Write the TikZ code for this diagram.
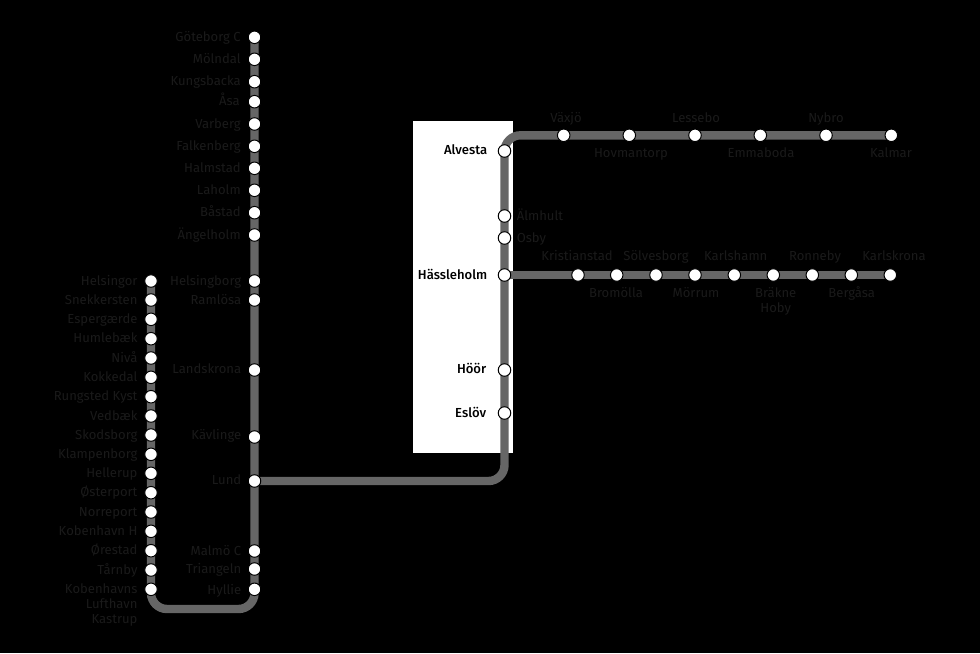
\documentclass[tikz,border=0pt]{standalone}
\usepackage{fontspec}
\setmainfont{Fira Sans}
\newfontfamily\mediumfont{Fira Sans Medium}
\usetikzlibrary{backgrounds}
\definecolor{railgray}{HTML}{666666}
\definecolor{faint}{HTML}{1A1A1A}
\tikzset{
  stopnode/.style={circle, draw=black, line width=0.75pt, fill=white, minimum size=9.4pt, inner sep=0pt},
  rail/.style={line width=6.3pt, railgray, rounded corners=12pt},
  lbl/.style={font=\fontsize{9.8}{11.25}\selectfont, faint, inner sep=0pt, text height=8.4pt, text depth=2pt},
  lblleft/.style={lbl, anchor=east},
  lblright/.style={lbl, anchor=west},
  lblmid/.style={lbl, anchor=center},
  lblstrong/.style={lblleft, black, font=\fontsize{9.8}{11.25}\selectfont\mediumfont}
}
\begin{document}
\begin{tikzpicture}[x=0.75pt, y=-0.75pt]
  % Danish side
  \node[stopnode] (helsingor) at (151,281) {};
  \node[stopnode] (snekkersten) at (151,300) {};
  \node[stopnode] (espergaerde) at (151,319.3) {};
  \node[stopnode] (humlebaek) at (151,338.7) {};
  \node[stopnode] (niva) at (151,358) {};
  \node[stopnode] (kokkedal) at (151,377.3) {};
  \node[stopnode] (rungsted) at (151,396.7) {};
  \node[stopnode] (vedbaek) at (151,416) {};
  \node[stopnode] (skodsborg) at (151,435) {};
  \node[stopnode] (klampenborg) at (151,454.3) {};
  \node[stopnode] (hellerup) at (151,473.3) {};
  \node[stopnode] (osterport) at (151,492.7) {};
  \node[stopnode] (norreport) at (151,512) {};
  \node[stopnode] (kobenhavnh) at (151,531.3) {};
  \node[stopnode] (orestad) at (151,550.7) {};
  \node[stopnode] (tarnby) at (151,570) {};
  \node[stopnode] (kastrup) at (151,589.3) {};
  \node[lblleft] (t-helsingor) at (137.7,281) {Helsingor};
  \node[lblleft] (t-snekkersten) at (137.7,300) {Snekkersten};
  \node[lblleft] (t-espergaerde) at (137.7,319.3) {Espergærde};
  \node[lblleft] (t-humlebaek) at (137.7,338.7) {Humlebæk};
  \node[lblleft] (t-niva) at (137.7,358) {Nivå};
  \node[lblleft] (t-kokkedal) at (137.7,377.3) {Kokkedal};
  \node[lblleft] (t-rungsted) at (137.7,396.7) {Rungsted Kyst};
  \node[lblleft] (t-vedbaek) at (137.7,416) {Vedbæk};
  \node[lblleft] (t-skodsborg) at (137.7,435) {Skodsborg};
  \node[lblleft] (t-klampenborg) at (137.7,454.3) {Klampenborg};
  \node[lblleft] (t-hellerup) at (137.7,473.3) {Hellerup};
  \node[lblleft] (t-osterport) at (137.7,492.7) {Østerport};
  \node[lblleft] (t-norreport) at (137.7,512) {Norreport};
  \node[lblleft] (t-kobenhavnh) at (137.7,531.3) {Kobenhavn H};
  \node[lblleft] (t-orestad) at (137.7,550.7) {Ørestad};
  \node[lblleft] (t-tarnby) at (137.7,570) {Tårnby};
  \node[lblleft, align=right, text height=, text depth=] (t-kastrup) at (137.7,605) {Kobenhavns\\Lufthavn\\Kastrup};

  % Swedish west coast
  \node[stopnode] (goteborg) at (254.5,37.3) {};
  \node[stopnode] (molndal) at (254.5,59.3) {};
  \node[stopnode] (kungsbacka) at (254.5,81.7) {};
  \node[stopnode] (asa) at (254.5,101.7) {};
  \node[stopnode] (varberg) at (254.5,124) {};
  \node[stopnode] (falkenberg) at (254.5,146.3) {};
  \node[stopnode] (halmstad) at (254.5,168.3) {};
  \node[stopnode] (laholm) at (254.5,190.3) {};
  \node[stopnode] (bastad) at (254.5,212.7) {};
  \node[stopnode] (angelholm) at (254.5,235) {};
  \node[stopnode] (helsingborg) at (254.5,281) {};
  \node[stopnode] (ramlosa) at (254.5,300) {};
  \node[stopnode] (landskrona) at (254.5,370) {};
  \node[stopnode] (kavlinge) at (254.5,437) {};
  \node[stopnode] (lund) at (254.5,481) {};
  \node[stopnode] (malmo) at (254.5,551) {};
  \node[stopnode] (triangeln) at (254.5,569) {};
  \node[stopnode] (hyllie) at (254.5,589.3) {};
  \node[lblleft] (t-goteborg) at (241,37.3) {Göteborg C};
  \node[lblleft] (t-molndal) at (241,59.3) {Mölndal};
  \node[lblleft] (t-kungsbacka) at (241,81.7) {Kungsbacka};
  \node[lblleft] (t-asa) at (240,101.7) {Åsa};
  \node[lblleft] (t-varberg) at (241,124) {Varberg};
  \node[lblleft] (t-falkenberg) at (241,146.3) {Falkenberg};
  \node[lblleft] (t-halmstad) at (241,168.3) {Halmstad};
  \node[lblleft] (t-laholm) at (241,190.3) {Laholm};
  \node[lblleft] (t-bastad) at (241,212.7) {Båstad};
  \node[lblleft] (t-angelholm) at (241,235) {Ängelholm};
  \node[lblleft] (t-helsingborg) at (241.5,281) {Helsingborg};
  \node[lblleft] (t-ramlosa) at (241.5,300) {Ramlösa};
  \node[lblleft] (t-landskrona) at (241.5,369.5) {Landskrona};
  \node[lblleft] (t-kavlinge) at (241.5,435.5) {Kävlinge};
  \node[lblleft] (t-lund) at (241.5,480) {Lund};
  \node[lblleft] (t-malmo) at (241.5,551) {Malmö C};
  \node[lblleft] (t-triangeln) at (241.5,569.5) {Triangeln};
  \node[lblleft] (t-hyllie) at (241.5,590) {Hyllie};

  % Highlighted stretch
  \node[stopnode] (alvesta) at (504.5,151) {};
  \node[stopnode] (almhult) at (504.5,216) {};
  \node[stopnode] (osby) at (504.5,238) {};
  \node[stopnode] (hassleholm) at (504.5,275) {};
  \node[stopnode] (hoor) at (504.5,370) {};
  \node[stopnode] (eslov) at (504.5,413) {};
  \node[lblstrong] (t-alvesta) at (487.5,150.5) {Alvesta};
  \node[lblright] (t-almhult) at (516.5,216.5) {Älmhult};
  \node[lblright] (t-osby) at (516.5,238.5) {Osby};
  \node[lblstrong] (t-hassleholm) at (487.5,275) {Hässleholm};
  \node[lblstrong] (t-hoor) at (486.5,369) {Höör};
  \node[lblstrong] (t-eslov) at (486.5,413) {Eslöv};

  % Kalmar branch
  \node[stopnode] (vaxjo) at (563.7,135.3) {};
  \node[stopnode] (hovmantorp) at (629.3,135.3) {};
  \node[stopnode] (lessebo) at (695,135.3) {};
  \node[stopnode] (emmaboda) at (760.3,135.3) {};
  \node[stopnode] (nybro) at (826,135.3) {};
  \node[stopnode] (kalmar) at (891.3,135.3) {};
  \node[lblmid] (t-vaxjo) at (566,118) {Växjö};
  \node[lblmid] (t-hovmantorp) at (631,153) {Hovmantorp};
  \node[lblmid] (t-lessebo) at (696,118) {Lessebo};
  \node[lblmid] (t-emmaboda) at (761,153) {Emmaboda};
  \node[lblmid] (t-nybro) at (826,118) {Nybro};
  \node[lblmid] (t-kalmar) at (891,153) {Kalmar};

  % Karlskrona branch
  \node[stopnode] (kristianstad) at (578,275) {};
  \node[stopnode] (bromolla) at (616.7,275) {};
  \node[stopnode] (solvesborg) at (656,275) {};
  \node[stopnode] (morrum) at (695,275) {};
  \node[stopnode] (karlshamn) at (734.3,275) {};
  \node[stopnode] (brakne) at (773.3,275) {};
  \node[stopnode] (ronneby) at (812.3,275) {};
  \node[stopnode] (bergasa) at (851.3,275) {};
  \node[stopnode] (karlskrona) at (890.3,275) {};
  \node[lblmid] (t-kristianstad) at (577,256) {Kristianstad};
  \node[lblmid] (t-bromolla) at (616,293) {Bromölla};
  \node[lblmid] (t-solvesborg) at (656,256) {Sölvesborg};
  \node[lblmid] (t-morrum) at (696,293) {Mörrum};
  \node[lblmid] (t-karlshamn) at (735.7,256) {Karlshamn};
  \node[lblmid, align=center, text height=, text depth=] (t-brakne) at (775.7,301.5) {Bräkne\\Hoby};
  \node[lblmid] (t-ronneby) at (815,256) {Ronneby};
  \node[lblmid] (t-bergasa) at (851.7,293) {Bergåsa};
  \node[lblmid] (t-karlskrona) at (894,256) {Karlskrona};

  % Corners of the rail
  \coordinate (bendleft) at (151,609);
  \coordinate (bendright) at (254.5,609);
  \coordinate (bendsouth) at (504.5,481);
  \coordinate (bendnorth) at (504.5,135.3);

  \begin{pgfonlayer}{background}
    \fill[black] (0,0) rectangle (980,653);
    \fill[white] (413.3,120.7) rectangle (513,453.3);
    % Rails
    \draw[rail] (helsingor.center) -- (bendleft) -- (bendright) -- (goteborg.center);
    \draw[rail] (lund.center) -- (bendsouth) -- (bendnorth) -- (kalmar.center);
    \draw[rail] (hassleholm.center) -- (karlskrona.center);
  \end{pgfonlayer}
\end{tikzpicture}
\end{document}
